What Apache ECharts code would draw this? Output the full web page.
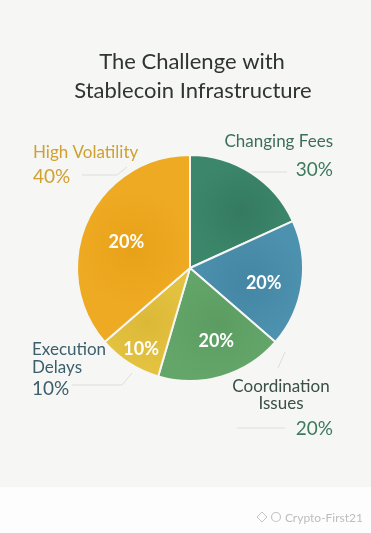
<!DOCTYPE html>
<html>
<head>
<meta charset="utf-8">
<script src="https://cdn.jsdelivr.net/npm/echarts@6/dist/echarts.min.js"></script>
<style>
html,body{margin:0;padding:0;background:#fdfdfd;}
#chart{width:371px;height:533px;}
</style>
</head>
<body>
<div id="chart"></div>
<script>
const titleLines = ['The Challenge with', 'Stablecoin Infrastructure'];
const categories = ['Changing Fees', 'Unlabeled', 'Coordination Issues', 'Execution Delays', 'High Volatility'];
const sliceValues = [20, 20, 20, 10, 40];
const innerLabels = ['', '20%', '20%', '10%', '20%'];
const outerLabels = ['30%', '', '20%', '10%', '40%'];
const sliceColors = ['#3c876b', '#4c91ae', '#64a66a', '#e3c240', '#eeaa22'];
const sliceEdge = ['#347a60', '#4486a3', '#5c9c62', '#dcb837', '#e8a21a'];
const labelColors = ['#3d6e5c', '', '#3a4f48', '#3c5f6c', '#d0a030'];
const pctColors = ['#3d7a5e', '', '#3d7a5e', '#3c5f6c', '#d0a030'];
const watermark = 'Crypto-First21';

const chart = echarts.init(document.getElementById('chart'), null, {renderer: 'canvas'});
const font = 'Lato, "Open Sans", sans-serif';
const cx = 190, cy = 268, R = 113;

const pieData = categories.map((c, i) => ({
  name: c,
  value: sliceValues[i],
  itemStyle: {
    color: {
      type: 'radial', x: 0.5, y: 0.5, r: 0.5,
      colorStops: [{offset: 0, color: sliceEdge[i]}, {offset: 1, color: sliceColors[i]}]
    }
  }
}));

function outerText(x, y, text, color, size, align, weight) {
  return {
    type: 'text', x: x, y: y, silent: true,
    style: {text: text, fill: color, font: (weight || 'normal') + ' ' + size + 'px ' + font, align: align || 'left', verticalAlign: 'middle'}
  };
}
function faintLine(pts) {
  return {type: 'polyline', silent: true, shape: {points: pts}, style: {stroke: '#dedede', lineWidth: 1, fill: null}};
}

const graphics = [
  {type: 'rect', shape: {x: 0, y: 0, width: 371, height: 487}, style: {fill: '#f6f6f4'}, silent: true, z: -10},
  outerText(192, 62, titleLines[0], '#2f3533', 22, 'center'),
  outerText(193, 91, titleLines[1], '#2f3533', 22, 'center'),
  // High Volatility
  outerText(33, 153, categories[4], labelColors[4], 17),
  outerText(33, 177, outerLabels[4], pctColors[4], 19),
  faintLine([[82, 175], [117, 175], [127, 167]]),
  // Changing Fees
  outerText(333, 142, categories[0], labelColors[0], 17, 'right'),
  outerText(333, 170, outerLabels[0], pctColors[0], 19, 'right'),
  faintLine([[252, 172], [287, 172]]),
  // Execution Delays
  outerText(32, 350, 'Execution', labelColors[3], 17),
  outerText(32, 368, 'Delays', labelColors[3], 17),
  outerText(32, 389, outerLabels[3], pctColors[3], 19),
  faintLine([[72, 385], [122, 385], [132, 373]]),
  // Coordination Issues
  outerText(281, 387, 'Coordination', labelColors[2], 17, 'center'),
  outerText(281, 404, 'Issues', labelColors[2], 17, 'center'),
  outerText(333, 429, outerLabels[2], pctColors[2], 19, 'right'),
  faintLine([[237, 428], [285, 428]]),
  faintLine([[285, 352], [278, 368]]),
  // watermark
  {type: 'polygon', silent: true, shape: {points: [[257, 517], [262, 512], [267, 517], [262, 522]]}, style: {fill: null, stroke: '#c4c4c4', lineWidth: 1}},
  {type: 'circle', silent: true, shape: {cx: 276, cy: 517, r: 4.5}, style: {fill: null, stroke: '#c4c4c4', lineWidth: 1.2}},
  outerText(363, 518, watermark, '#bdbdbd', 12, 'right')
];

chart.setOption({
  backgroundColor: '#fdfdfd',
  animation: false,
  graphic: graphics,
  series: [
    {
      type: 'pie', center: [cx, cy], radius: [0, R], startAngle: 90, clockwise: true,
      silent: true, label: {show: false}, labelLine: {show: false},
      itemStyle: {borderColor: '#f6f6f4', borderWidth: 2},
      data: pieData
    },
    {
      type: 'pie', center: [cx, cy], radius: [32, R], startAngle: 90, clockwise: true,
      silent: true,
      itemStyle: {color: 'rgba(0,0,0,0)'},
      labelLine: {show: false},
      label: {
        show: true, position: 'inside', color: '#ffffff', fontFamily: font, fontSize: 18, fontWeight: 'bold',
        formatter: p => innerLabels[p.dataIndex]
      },
      labelLayout: p => {
        if (p.dataIndex === 1) return {dx: -1, dy: 4};
        if (p.dataIndex === 2) return {dx: 5, dy: 1};
        if (p.dataIndex === 3) return {dx: -8, dy: 18};
        if (p.dataIndex === 4) return {dx: 5, dy: 6};
        return {};
      },
      data: categories.map((c, i) => ({name: c, value: sliceValues[i]}))
    }
  ]
});
</script>
</body>
</html>
